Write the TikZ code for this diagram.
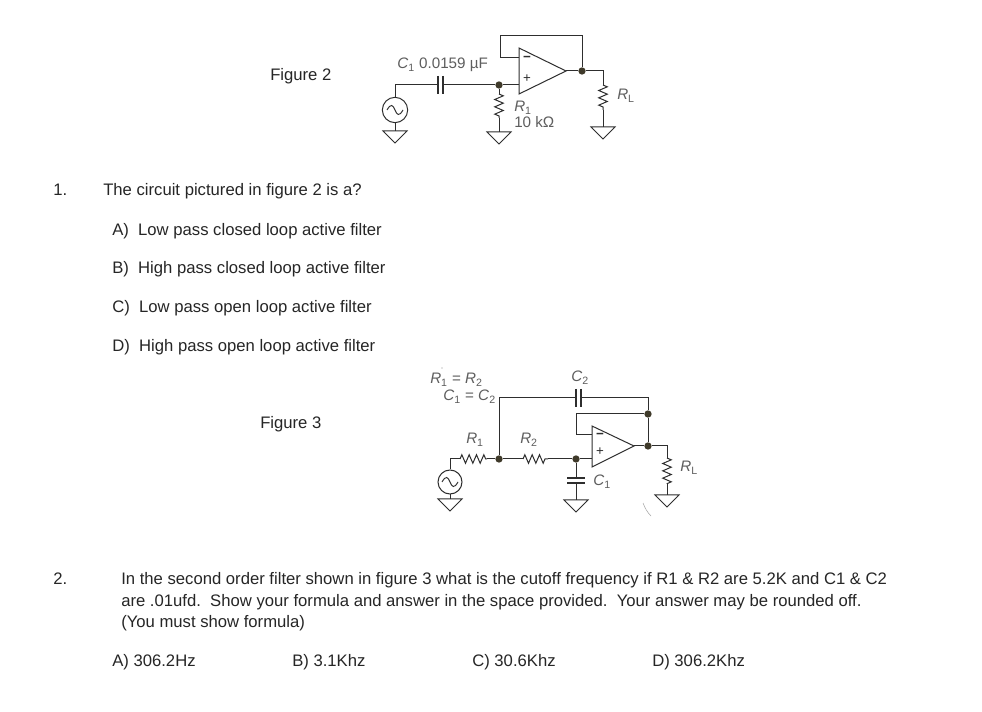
\documentclass[tikz,border=0pt]{standalone}
\usepackage{fontspec}
\setmainfont{Liberation Sans}
\usetikzlibrary{decorations.pathmorphing,calc}
\definecolor{ink}{HTML}{2E2E2E}
\definecolor{lab}{HTML}{5E5E5E}
\definecolor{dotc}{HTML}{3F3A2A}
\newcommand{\sym}[2]{\textit{#1}\textsubscript{#2}}
\tikzset{
  body/.style={anchor=base west,inner sep=0pt,font=\fontsize{12.5}{14}\selectfont,text=black!85},
  lbl/.style={anchor=base west,inner sep=0pt,font=\fontsize{11.4}{13}\selectfont,text=lab},
  wire/.style={draw=ink,line width=0.75pt},
  res/.style={draw=ink,line width=0.75pt,decorate,decoration={zigzag,segment length=5.5pt,amplitude=3.2pt}},
  plate/.style={draw=ink,line width=1pt},
  junc/.style={circle,fill=dotc,inner sep=0pt,minimum size=5.5pt},
  src/.style={circle,draw=ink,line width=0.75pt,inner sep=0pt,minimum size=#1},
  sign/.style={inner sep=0pt,font=\fontsize{10}{11}\selectfont,text=ink},
  gnd/.pic={\draw[wire] (-12,0) -- (12,0) -- (0,12) -- cycle;}
}
\begin{document}
\begin{tikzpicture}[x=0.75pt,y=-0.75pt]
\useasboundingbox[fill=white] (0,0) rectangle (982,712);
% ---- text
\node[body] (fig2) at (270,81) {Figure 2};
\node[body] (n1) at (53,196) {1.};
\node[body] (q1) at (103,196) {The circuit pictured in figure 2 is a?};
\node[body] (a1) at (112,236) {A)\ \ Low pass closed loop active filter};
\node[body] (b1) at (112,274) {B)\ \ High pass closed loop active filter};
\node[body] (c1) at (112,313) {C)\ \ Low pass open loop active filter};
\node[body] (d1) at (112,352) {D)\ \ High pass open loop active filter};
\node[body] (fig3) at (260,429) {Figure 3};
\node[body] (n2) at (53,585) {2.};
\node[body] (q2a) at (121,585) {In the second order filter shown in figure 3 what is the cutoff frequency if R1 \& R2 are 5.2K and C1 \& C2};
\node[body] (q2b) at (121,606) {are .01ufd.\ \ Show your formula and answer in the space provided.\ \ Your answer may be rounded off.};
\node[body] (q2c) at (121,628) {(You must show formula)};
\node[body] (a2) at (112,667) {A) 306.2Hz};
\node[body] (b2) at (292,667) {B) 3.1Khz};
\node[body] (c2) at (472,667) {C) 30.6Khz};
\node[body] (d2) at (652,667) {D) 306.2Khz};
% ---- figure 2
\node[src=19pt] (s1) at (395,110) {\tikz[baseline=-0.5ex,x=0.75pt,y=-0.75pt]\draw[ink,line width=0.7pt] (-8,0) .. controls (-4,-7) and (-2,-5) .. (0,0) .. controls (2,5) and (4,7) .. (8,0);};
\coordinate (s1top) at (395,85);
\coordinate (capL) at (438,85);
\coordinate (capR) at (443,85);
\node[junc] (j1) at (499,85) {};
\coordinate (oa1a) at (519,48);
\coordinate (oa1b) at (519,94);
\coordinate (oa1o) at (566,71);
\coordinate (oa1m) at (519,58);
\coordinate (oa1p) at (519,85);
\coordinate (fb1a) at (500,58);
\coordinate (fb1b) at (500,36);
\coordinate (fb1c) at (582,36);
\node[junc] (j2) at (582,71) {};
\coordinate (rl1t) at (603,71);
\coordinate (rl1a) at (603,85);
\coordinate (rl1b) at (603,110);
\coordinate (g1c) at (603,127);
\coordinate (g1a) at (395,131);
\coordinate (r1a) at (499,94);
\coordinate (r1b) at (499,118);
\coordinate (g1b) at (499,132);
\draw[wire] (s1.north) -- (s1top) -- (capL);
\draw[wire] (capR) -- (j1) -- (oa1p);
\draw[plate] ($(capL)+(0,-9)$) -- ($(capL)+(0,9)$);
\draw[plate] ($(capR)+(0,-9)$) -- ($(capR)+(0,9)$);
\draw[wire] (oa1a) -- (oa1o) -- (oa1b) -- cycle;
\draw[wire] (oa1m) -- (fb1a) -- (fb1b) -- (fb1c) -- (j2);
\draw[wire] (oa1o) -- (j2) -- (rl1t) -- (rl1a);
\draw[res] (rl1a) -- (rl1b);
\draw[wire] (rl1b) -- (g1c);
\draw[wire] (s1.south) -- (g1a);
\draw[wire] (j1) -- (r1a);
\draw[res] (r1a) -- (r1b);
\draw[wire] (r1b) -- (g1b);
\pic at (g1a) {gnd};
\pic at (g1b) {gnd};
\pic at (g1c) {gnd};
\node[sign] (m1) at (527,59) {\textbf{−}};
\node[sign] (p1) at (527,79) {+};
\node[lbl] (c1v) at (397,69) {\sym{C}{1} 0.0159 µF};
\node[lbl] (r1n) at (514,112) {\sym{R}{1}};
\node[lbl] (r1v) at (514,128) {10 kΩ};
\node[lbl] (rl1n) at (617,100) {\sym{R}{L}};
% ---- figure 3
\node[src=18pt] (s2) at (450,482) {\tikz[baseline=-0.5ex,x=0.75pt,y=-0.75pt]\draw[ink,line width=0.7pt] (-8,0) .. controls (-4,-7) and (-2,-5) .. (0,0) .. controls (2,5) and (4,7) .. (8,0);};
\coordinate (s2top) at (450,459);
\coordinate (ra) at (460,459);
\coordinate (rb) at (487,459);
\node[junc] (j3) at (499,459) {};
\coordinate (rc) at (523,459);
\coordinate (rd) at (548,459);
\node[junc] (j4) at (576,459) {};
\coordinate (oa2a) at (592,426);
\coordinate (oa2b) at (592,467);
\coordinate (oa2o) at (634,446);
\coordinate (oa2m) at (592,435);
\coordinate (oa2p) at (592,459);
\coordinate (fb2a) at (576,435);
\coordinate (fb2b) at (576,414);
\node[junc] (j5) at (648,414) {};
\node[junc] (j6) at (648,446) {};
\coordinate (t1) at (499,398);
\coordinate (c2L) at (576,398);
\coordinate (c2R) at (581,398);
\coordinate (t2) at (648,398);
\coordinate (rl2t) at (667,446);
\coordinate (rl2a) at (667,458);
\coordinate (rl2b) at (667,484);
\coordinate (g2c) at (667,495);
\coordinate (c1T) at (576,478);
\coordinate (c1B) at (576,483);
\coordinate (g2b) at (576,500);
\coordinate (g2a) at (450,499);
\draw[wire] (s2.north) -- (s2top) -- (ra);
\draw[res] (ra) -- (rb);
\draw[wire] (rb) -- (j3) -- (rc);
\draw[res] (rc) -- (rd);
\draw[wire] (rd) -- (j4) -- (oa2p);
\draw[wire] (oa2a) -- (oa2o) -- (oa2b) -- cycle;
\draw[wire] (oa2m) -- (fb2a) -- (fb2b) -- (j5);
\draw[wire] (j3) -- (t1) -- (c2L);
\draw[wire] (c2R) -- (t2) -- (j5) -- (j6);
\draw[plate] ($(c2L)+(0,-9)$) -- ($(c2L)+(0,9)$);
\draw[plate] ($(c2R)+(0,-9)$) -- ($(c2R)+(0,9)$);
\draw[wire] (oa2o) -- (j6) -- (rl2t) -- (rl2a);
\draw[res] (rl2a) -- (rl2b);
\draw[wire] (rl2b) -- (g2c);
\draw[wire] (j4) -- (c1T);
\draw[plate] ($(c1T)+(-9,0)$) -- ($(c1T)+(9,0)$);
\draw[plate] ($(c1B)+(-9,0)$) -- ($(c1B)+(9,0)$);
\draw[wire] (c1B) -- (g2b);
\draw[wire] (s2.south) -- (g2a);
\pic at (g2a) {gnd};
\pic at (g2b) {gnd};
\pic at (g2c) {gnd};
\node[sign] (m2) at (600,436) {\textbf{−}};
\node[sign] (p2) at (600,452) {+};
\node[lbl] (eq1) at (430,384) {\sym{R}{1} = \sym{R}{2}};
\node[lbl] (eq2) at (443,401) {\sym{C}{1} = \sym{C}{2}};
\node[lbl] (c2n) at (571,382) {\sym{C}{2}};
\node[lbl] (r1f) at (466,444) {\sym{R}{1}};
\node[lbl] (r2f) at (520,444) {\sym{R}{2}};
\node[lbl] (c1f) at (593,486) {\sym{C}{1}};
\node[lbl] (rlf) at (680,472) {\sym{R}{L}};
% faint scan marks
\draw[black!35,line width=0.4pt] (643,503) .. controls (645,508) and (647,512) .. (651,516);
\fill[black!45] (442,368) circle (0.7);
\end{tikzpicture}
\end{document}
